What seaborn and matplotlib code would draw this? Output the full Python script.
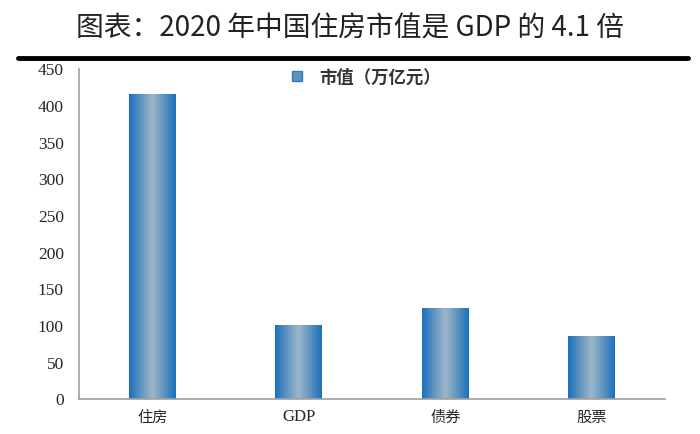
import numpy as np
import pandas as pd
import seaborn as sns
import matplotlib.pyplot as plt
from matplotlib.colors import LinearSegmentedColormap
from matplotlib.lines import Line2D

# data
categories = ['住房', 'GDP', '债券', '股票']
values = [417, 101, 125, 86]
y_ticks = [0, 50, 100, 150, 200, 250, 300, 350, 400, 450]

sns.set_style('white')
plt.rcParams['font.family'] = ['Liberation Serif', 'Noto Sans CJK SC', 'DejaVu Sans']

df = pd.DataFrame({'类别': categories, '市值': values})

fig = plt.figure(figsize=(7, 4.34), dpi=100)
ax = fig.add_axes([0.113, 0.08, 0.837, 0.76])

sns.barplot(data=df, x='类别', y='市值', color='#2a7cc4', width=0.32,
            saturation=1, ax=ax)

# horizontal gradient on each bar: dark blue edges, pale centre
grad = LinearSegmentedColormap.from_list(
    'bar', ['#1a70be', '#5f93bf', '#9db6ca', '#5f93bf', '#1a70be'])
strip = np.linspace(0, 1, 256).reshape(1, -1)
for p in ax.patches:
    x0, y0 = p.get_x(), p.get_y()
    w, h = p.get_width(), p.get_height()
    im = ax.imshow(strip, cmap=grad, aspect='auto', zorder=p.get_zorder() + 0.1,
                   extent=[x0, x0 + w, y0, y0 + h])
    im.set_clip_path(p)

ax.set_xlim(-0.5, len(categories) - 0.5)
ax.set_ylim(0, 450)
ax.set_yticks(y_ticks)
ax.set_xlabel('')
ax.set_ylabel('')

ax.set_xticks(np.arange(len(categories)))
ax.set_xticklabels(categories, fontsize=11, family=['Noto Sans CJK SC'])
ax.set_xticks(np.arange(len(categories) + 1) - 0.5, minor=True)
ax.tick_params(axis='x', which='major', length=0, pad=7)
ax.tick_params(axis='x', which='minor', length=5, color='#a0a0a0', direction='out')
ax.tick_params(axis='y', length=5, color='#a0a0a0', direction='out', labelsize=12.5, pad=6)
for lab in ax.get_xticklabels():
    if lab.get_text() == 'GDP':
        lab.set_family('Liberation Serif')
        lab.set_fontsize(12)

for s in ['top', 'right']:
    ax.spines[s].set_visible(False)
for s in ['left', 'bottom']:
    ax.spines[s].set_color('#a0a0a0')
    ax.spines[s].set_linewidth(1.2)

handle = Line2D([], [], marker='s', linestyle='none', markersize=7,
                markerfacecolor='#5f93bf', markeredgecolor='#2a7cc4')
leg = ax.legend([handle], ['市值（万亿元）'], loc='upper center',
                bbox_to_anchor=(0.48, 1.05), frameon=False, handletextpad=0.3,
                prop={'family': ['Noto Sans CJK SC'], 'weight': 'bold', 'size': 12.5})
for t in leg.get_texts():
    t.set_color('#333333')

fig.text(0.5, 0.935, '图表：2020 年中国住房市值是 GDP 的 4.1 倍', ha='center', va='center',
         fontsize=20, family=['Noto Sans CJK SC'], color='#222222')
fig.add_artist(Line2D([0.026, 0.983], [0.866, 0.866], color='black', linewidth=3.5,
                      transform=fig.transFigure))

fig.savefig('out.png', dpi=100)
